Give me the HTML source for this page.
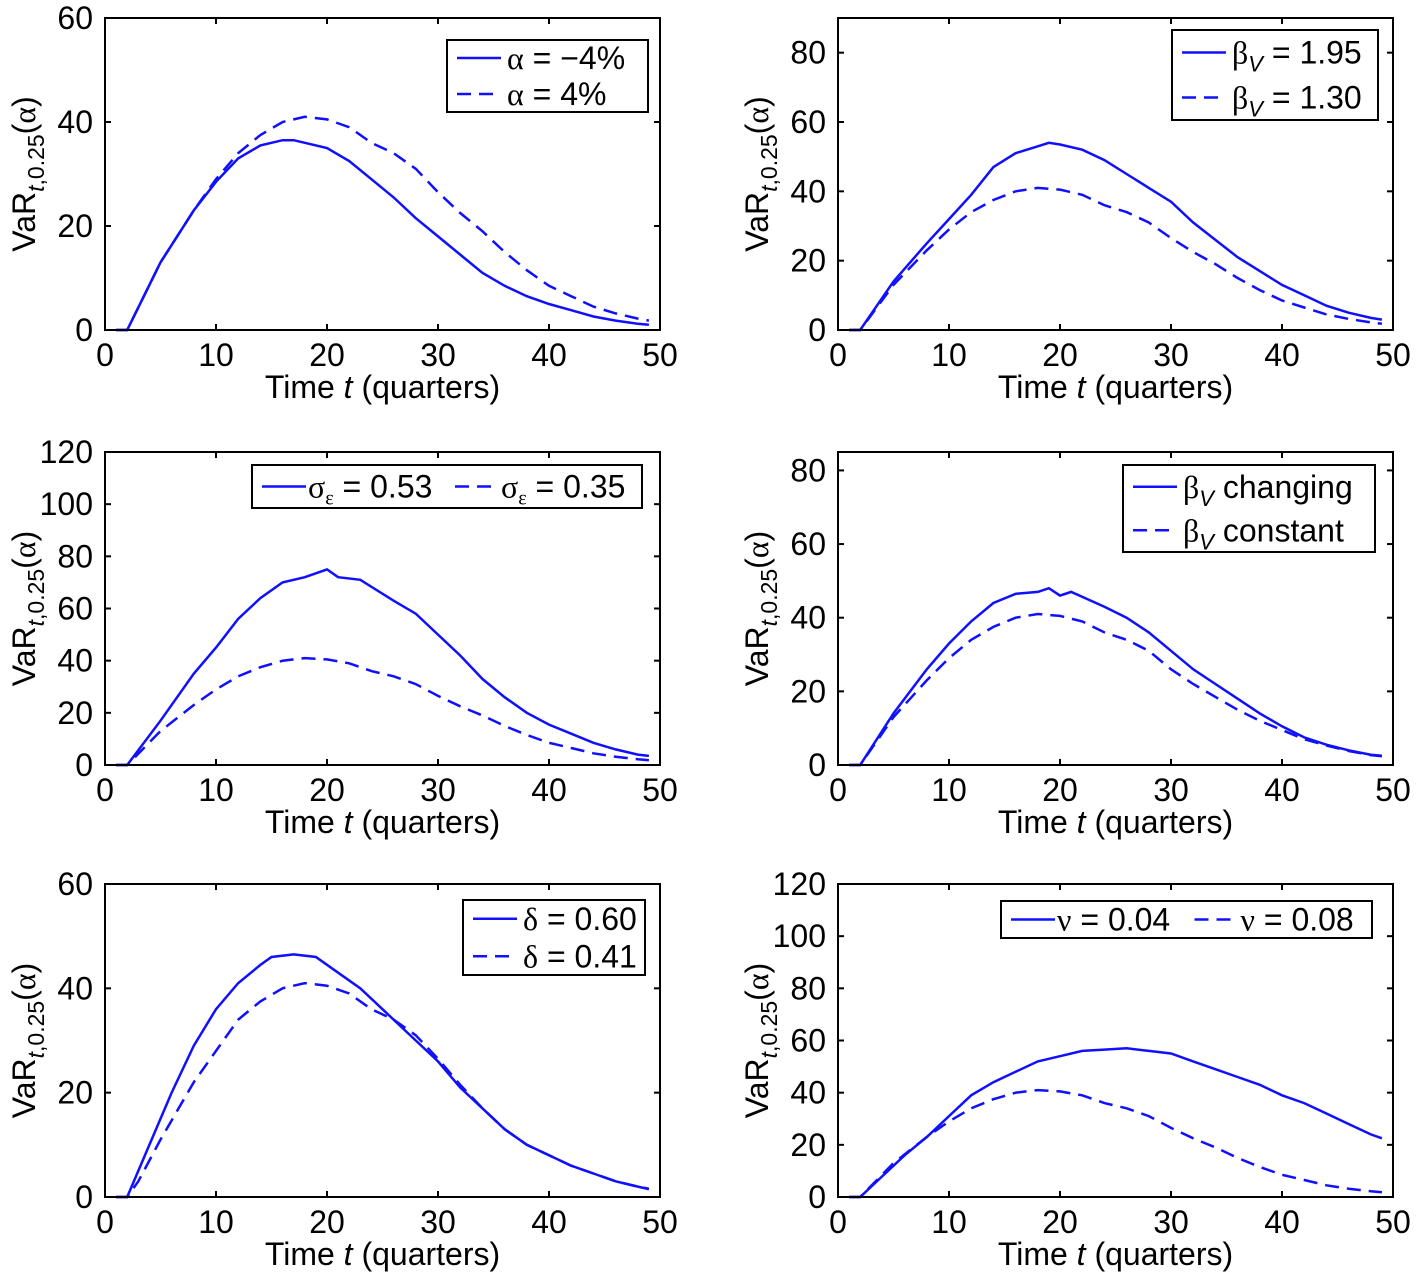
<!DOCTYPE html>
<html><head><meta charset="utf-8"><style>
body{margin:0;background:#fff}
svg{display:block}
text{font-family:"Liberation Sans",sans-serif;fill:#000}
</style></head><body>
<svg id="s" width="1417" height="1279" xmlns="http://www.w3.org/2000/svg"></svg>
<script>
const base=[[1,0],[2,0],[5,13],[8,23],[10,29],[12,34],[14,37.5],[16,40],[18,41],[20,40.5],[22,39],[24,36],[26,34],[28,31],[30,26.5],[32,22.5],[34,19],[36,15],[38,11.5],[40,8.5],[42,6.5],[44,4.5],[46,3.2],[48,2.2],[49,1.8]];
const P=[
{x0:105,x1:660,y0:18,y1:330,ym:60,tk:[0,20,40,60],
 s:[[1,0],[2,0],[5,13],[8,23],[10,28.5],[12,33],[14,35.5],[16,36.5],[17,36.5],[20,35],[22,32.5],[24,29],[26,25.5],[28,21.5],[30,18],[32,14.5],[34,11],[36,8.5],[38,6.5],[40,5],[42,3.8],[44,2.6],[46,1.8],[48,1.2],[49,1]],
 d:base,
 lg:[447,40,648,112,'<tspan font-family="Liberation Serif">α</tspan> = −4%','<tspan font-family="Liberation Serif">α</tspan> = 4%',0]},
{x0:838,x1:1393,y0:18,y1:330,ym:90,tk:[0,20,40,60,80],
 s:[[1,0],[2,0],[5,14],[8,25],[10,32],[12,39],[14,47],[16,51],[18,53],[19,54],[20,53.5],[22,52],[24,49],[26,45],[28,41],[30,37],[32,31],[34,26],[36,21],[38,17],[40,13],[42,10],[44,7],[46,5],[48,3.5],[49,3]],
 d:base,lg:[1172,30,1378,120,'<tspan font-family="Liberation Serif">β</tspan><tspan font-size="22" font-style="italic" dy="8">V</tspan><tspan dy="-8"> = 1.95</tspan>','<tspan font-family="Liberation Serif">β</tspan><tspan font-size="22" font-style="italic" dy="8">V</tspan><tspan dy="-8"> = 1.30</tspan>',0]},
{x0:105,x1:660,y0:452,y1:765,ym:120,tk:[0,20,40,60,80,100,120],
 s:[[1,0],[2,0],[5,17],[8,35],[10,45],[12,56],[14,64],[16,70],[18,72],[20,75],[21,72],[23,71],[26,63],[28,58],[30,50],[32,42],[34,33],[36,26],[38,20],[40,15.5],[42,12],[44,8.5],[46,6],[48,4],[49,3.5]],
 d:base,lg:[252,465,642,508,'<tspan font-family="Liberation Serif">σ</tspan><tspan font-size="20" font-family="Liberation Serif" dy="7">ε</tspan><tspan dy="-7"> = 0.53</tspan>','<tspan font-family="Liberation Serif">σ</tspan><tspan font-size="20" font-family="Liberation Serif" dy="7">ε</tspan><tspan dy="-7"> = 0.35</tspan>',1]},
{x0:838,x1:1393,y0:452,y1:765,ym:85,tk:[0,20,40,60,80],
 s:[[1,0],[2,0],[5,14],[8,26],[10,33],[12,39],[14,44],[16,46.5],[18,47],[19,48],[20,46],[21,47],[24,43],[26,40],[28,36],[30,31],[32,26],[34,22],[36,18],[38,14],[40,10.5],[42,7.5],[44,5.5],[46,4],[48,2.8],[49,2.5]],
 d:[[1,0],[2,0],[5,13],[8,23],[10,29],[12,34],[14,37.5],[16,40],[18,41],[20,40.5],[22,39],[24,36],[26,34],[28,31],[30,26],[32,22],[34,18.5],[36,15],[38,12],[40,9.5],[42,7],[44,5.3],[46,3.8],[48,2.7],[49,2.4]],
 lg:[1123,465,1375,552,'<tspan font-family="Liberation Serif">β</tspan><tspan font-size="22" font-style="italic" dy="8">V</tspan><tspan dy="-8"> changing</tspan>','<tspan font-family="Liberation Serif">β</tspan><tspan font-size="22" font-style="italic" dy="8">V</tspan><tspan dy="-8"> constant</tspan>',0]},
{x0:105,x1:660,y0:884,y1:1197,ym:60,tk:[0,20,40,60],
 s:[[1,0],[2,0],[4,10],[6,20],[8,29],[10,36],[12,41],[14,44.5],[15,46],[17,46.5],[19,46],[21,43],[23,40],[25,36],[27,32],[30,26],[32,21],[34,17],[36,13],[38,10],[40,8],[42,6],[44,4.5],[46,3],[48,2],[49,1.5]],
 d:[[1,0],[2,0],[3,3],[5,11],[8,22],[10,28],[12,34],[14,37.5],[16,40],[18,41],[20,40.5],[22,39],[24,36],[26,34],[28,31],[30,26.5],[32,21.5],[34,17],[36,13],[38,10],[40,8],[42,6],[44,4.5],[46,3],[48,2],[49,1.6]],
 lg:[463,900,645,975,'<tspan font-family="Liberation Serif">δ</tspan> = 0.60','<tspan font-family="Liberation Serif">δ</tspan> = 0.41',0]},
{x0:838,x1:1393,y0:884,y1:1197,ym:120,tk:[0,20,40,60,80,100,120],
 s:[[1,0],[2,0],[4,8],[6,16],[8,23],[10,31],[12,39],[14,44],[16,48],[18,52],[20,54],[22,56],[24,56.5],[26,57],[28,56],[30,55],[32,52],[34,49],[36,46],[38,43],[40,39],[42,36],[44,32],[46,28],[48,24],[49,22.5]],
 d:base,lg:[1001,901,1372,938,'<tspan font-family="Liberation Serif">ν</tspan> = 0.04','<tspan font-family="Liberation Serif">ν</tspan> = 0.08',1]}
];
let h='';
const FS=32;
for(const p of P){
 const X=t=>p.x0+(p.x1-p.x0)*t/50, Y=v=>p.y1-(p.y1-p.y0)*v/p.ym;
 const pts=a=>a.map(q=>X(q[0]).toFixed(1)+','+Y(q[1]).toFixed(1)).join(' ');
 h+=`<polyline points="${pts(p.s)}" fill="none" stroke="#1010ff" stroke-width="2.5"/>`;
 h+=`<polyline points="${pts(p.d)}" fill="none" stroke="#1010ff" stroke-width="2.5" stroke-dasharray="14,8"/>`;
 h+=`<rect x="${p.x0}" y="${p.y0}" width="${p.x1-p.x0}" height="${p.y1-p.y0}" fill="none" stroke="#000" stroke-width="2"/>`;
 for(let t=0;t<=50;t+=10){const x=X(t);
  h+=`<line x1="${x}" y1="${p.y1}" x2="${x}" y2="${p.y1-6}" stroke="#000" stroke-width="2"/><line x1="${x}" y1="${p.y0}" x2="${x}" y2="${p.y0+6}" stroke="#000" stroke-width="2"/>`;
  h+=`<text x="${x}" y="${p.y1+36}" font-size="${FS}" text-anchor="middle">${t}</text>`;}
 for(const v of p.tk){const y=Y(v);
  h+=`<line x1="${p.x0}" y1="${y}" x2="${p.x0+6}" y2="${y}" stroke="#000" stroke-width="2"/><line x1="${p.x1}" y1="${y}" x2="${p.x1-6}" y2="${y}" stroke="#000" stroke-width="2"/>`;
  h+=`<text x="${p.x0-12}" y="${y+11}" font-size="${FS}" text-anchor="end">${v}</text>`;}
 const cx=(p.x0+p.x1)/2;
 h+=`<text x="${cx}" y="${p.y1+68}" font-size="${FS}" text-anchor="middle">Time <tspan font-style="italic">t</tspan> (quarters)</text>`;
 const cy=(p.y0+p.y1)/2, lx=p.x0-70;
 h+=`<text transform="translate(${lx},${cy}) rotate(-90)" font-size="${FS}" text-anchor="middle">VaR<tspan font-size="23" dy="9"><tspan font-style="italic">t</tspan>,0.25</tspan><tspan dy="-9">(</tspan><tspan font-family="Liberation Serif">α</tspan>)</text>`;
 const [a,b,c,d,l1,l2,hor]=p.lg;
 h+=`<rect x="${a}" y="${b}" width="${c-a}" height="${d-b}" fill="#fff" stroke="#000" stroke-width="2"/>`;
 if(!hor){const m=(d-b)/4;
  h+=`<line x1="${a+10}" y1="${b+m}" x2="${a+54}" y2="${b+m}" stroke="#1010ff" stroke-width="2.5"/><text x="${a+60}" y="${b+m+11}" font-size="${FS}">${l1}</text>`;
  h+=`<line x1="${a+10}" y1="${b+3*m}" x2="${a+54}" y2="${b+3*m}" stroke="#1010ff" stroke-width="2.5" stroke-dasharray="14,8"/><text x="${a+60}" y="${b+3*m+11}" font-size="${FS}">${l2}</text>`;
 } else {const m=(b+d)/2, w=(c-a)/2;
  h+=`<line x1="${a+10}" y1="${m}" x2="${a+54}" y2="${m}" stroke="#1010ff" stroke-width="2.5"/><text x="${a+56}" y="${m+11}" font-size="${FS}">${l1}</text>`;
  h+=`<line x1="${a+w+8}" y1="${m}" x2="${a+w+52}" y2="${m}" stroke="#1010ff" stroke-width="2.5" stroke-dasharray="14,8"/><text x="${a+w+54}" y="${m+11}" font-size="${FS}">${l2}</text>`;}
}
document.getElementById('s').innerHTML=h;
</script>
</body></html>
